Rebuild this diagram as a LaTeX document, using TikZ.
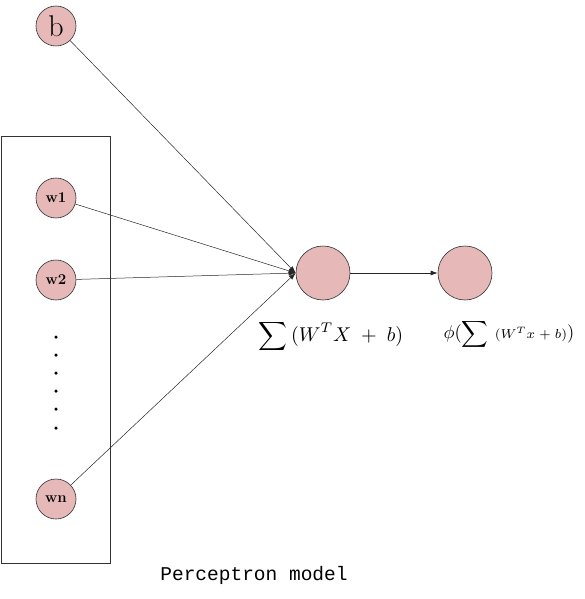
\documentclass[tikz,border=0pt]{standalone}
\usepackage{fontspec}
\setmonofont{Liberation Mono}
\usetikzlibrary{arrows.meta}
\definecolor{nodefill}{HTML}{E6B9B8}
\begin{document}
\begin{tikzpicture}[x=1pt,y=-1pt,
  neuron/.style={circle,draw=black!80,line width=0.6pt,fill=nodefill,inner sep=0pt},
  small/.style={neuron,minimum size=40pt},
  big/.style={neuron,minimum size=54pt},
  conn/.style={draw=black!85,line width=0.5pt,-{Latex[length=7pt,width=5pt]}},
  dotnode/.style={circle,fill=black,inner sep=0pt,minimum size=3.5pt}]
\useasboundingbox (0,0) rectangle (585,599);
\node[draw=black!80,line width=0.6pt,minimum width=109pt,minimum height=427pt,inner sep=0pt] (box) at (55.5,349.5) {};
\node[small,font=\fontsize{30}{32}\selectfont] (b) at (56,26) {b};
\node[small,font=\bfseries\fontsize{15}{16}\selectfont] (w1) at (56,198) {w1};
\node[small,font=\bfseries\fontsize{15}{16}\selectfont] (w2) at (56,280) {w2};
\node[small,font=\bfseries\fontsize{15}{16}\selectfont] (wn) at (56,499) {wn};
\foreach \i/\yy in {1/337,2/355,3/373,4/391,5/409,6/428}
  \node[dotnode] (d\i) at (56,\yy) {};
\node[big] (sum) at (323,273) {};
\node[big] (out) at (465,273) {};
\draw[conn] (b) -- (sum.west);
\draw[conn] (w1) -- (sum.west);
\draw[conn] (w2) -- (sum.west);
\draw[conn] (wn) -- (sum.west);
\draw[conn,line width=0.7pt] (sum) -- (out);
\node[scale=2,inner sep=0pt] (sumlab) at (331,336) {$\displaystyle\sum\,(W^{T}X\;+\;b)$};
\node[scale=1.85,inner sep=0pt] (outlab) at (509,334) {$\phi(\displaystyle\sum\,{\scriptstyle(W^{T}x\;+\;b)})$};
\node[font=\ttfamily\fontsize{19.5}{22}\selectfont] (cap) at (254,575) {Perceptron model};
\end{tikzpicture}
\end{document}
